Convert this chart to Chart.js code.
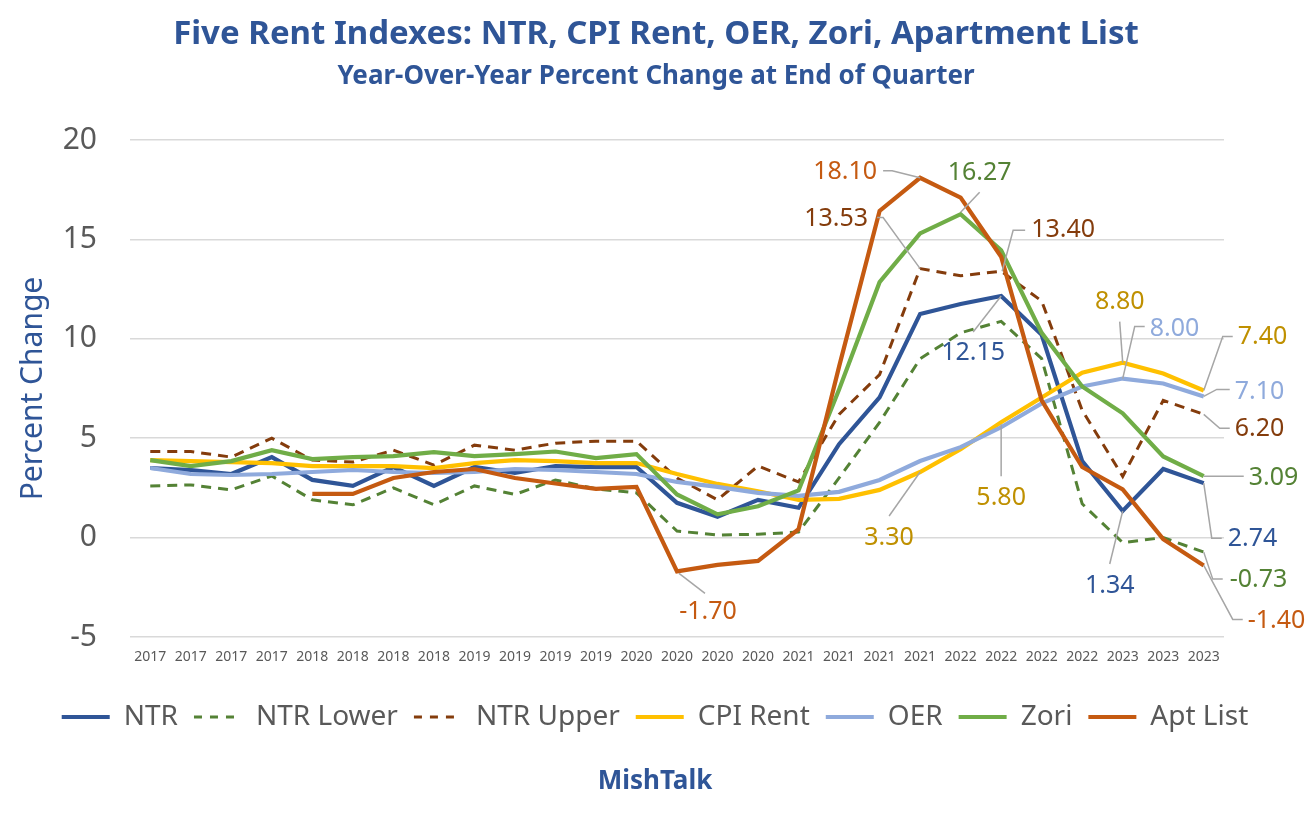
<!DOCTYPE html>
<html>
<head>
<meta charset="utf-8">
<script src="https://cdn.jsdelivr.net/npm/chart.js@4.4.1/dist/chart.umd.min.js"></script>
<style>
  html, body { margin: 0; padding: 0; background: #ffffff; }
  #wrap { width: 1310px; height: 835px; }
</style>
</head>
<body>
<div id="wrap"><canvas id="rentChart"></canvas></div>
<script>
// quarter-end labels, 2017 Q1 .. 2023 Q3
const quarters = [
  '2017', '2017', '2017', '2017', '2018', '2018', '2018', '2018',
  '2019', '2019', '2019', '2019', '2020', '2020', '2020', '2020',
  '2021', '2021', '2021', '2021', '2022', '2022', '2022', '2022',
  '2023', '2023', '2023'
];

const ntr      = [3.5, 3.4, 3.2, 4.05, 2.9, 2.6, 3.55, 2.6, 3.55, 3.25, 3.6, 3.55, 3.55, 1.75, 1.05, 1.9, 1.5, 4.7, 7.05, 11.25, 11.75, 12.15, 10.2, 3.85, 1.34, 3.45, 2.74];
const ntrLower = [2.6, 2.65, 2.4, 3.1, 1.9, 1.65, 2.5, 1.65, 2.6, 2.17, 2.9, 2.45, 2.25, 0.33, 0.13, 0.17, 0.28, 3.0, 5.8, 9.0, 10.3, 10.88, 9.0, 1.7, -0.25, 0.0, -0.73];
const ntrUpper = [4.33, 4.33, 4.05, 5.0, 3.9, 3.8, 4.4, 3.65, 4.65, 4.4, 4.75, 4.85, 4.85, 3.0, 1.9, 3.6, 2.8, 6.2, 8.2, 13.53, 13.17, 13.40, 11.9, 6.4, 3.08, 6.9, 6.20];
const cpiRent  = [3.9, 3.85, 3.8, 3.75, 3.6, 3.6, 3.6, 3.5, 3.75, 3.9, 3.85, 3.75, 3.75, 3.2, 2.7, 2.33, 1.9, 1.95, 2.4, 3.30, 4.45, 5.80, 7.05, 8.3, 8.80, 8.25, 7.40];
const oer      = [3.5, 3.2, 3.15, 3.2, 3.3, 3.4, 3.3, 3.25, 3.3, 3.45, 3.4, 3.3, 3.2, 2.8, 2.55, 2.25, 2.1, 2.3, 2.9, 3.85, 4.55, 5.55, 6.75, 7.6, 8.00, 7.75, 7.10];
const zori     = [3.9, 3.6, 3.85, 4.4, 3.95, 4.05, 4.1, 4.3, 4.1, 4.2, 4.33, 4.0, 4.2, 2.17, 1.17, 1.58, 2.37, 7.45, 12.85, 15.3, 16.27, 14.45, 10.3, 7.6, 6.25, 4.08, 3.09];
const aptList  = [null, null, null, null, 2.2, 2.2, 3.0, 3.3, 3.45, 3.0, 2.72, 2.45, 2.55, -1.70, -1.37, -1.17, 0.42, 8.6, 16.43, 18.10, 17.1, 14.13, 6.9, 3.55, 2.42, -0.08, -1.40];

const yTicks = [-5, 0, 5, 10, 15, 20];

// callouts: which point gets a value label, where the text sits and the leader path (px offsets from the point)
const callouts = [
  { series: 'Apt List',  i: 13, dx: 31,  dy: 40,  align: 'center', color: '#C55A11', leader: [[2, 2], [28, 22]] },
  { series: 'Apt List',  i: 19, dx: -43, dy: -6,  align: 'right',  color: '#C55A11', leader: [[0, 0], [-28, -7], [-37, -7]] },
  { series: 'Zori',      i: 20, dx: 19,  dy: -41, align: 'center', color: '#548235', leader: [[0, -2], [19, -22]] },
  { series: 'NTR Upper', i: 19, dx: -52, dy: -50, align: 'right',  color: '#843C0C', leader: [[0, 0], [-37, -51], [-43, -51]] },
  { series: 'NTR Upper', i: 21, dx: 30,  dy: -41, align: 'left',   color: '#843C0C', leader: [[1, 0], [12, -41], [24, -41]] },
  { series: 'NTR',       i: 21, dx: -28, dy: 57,  align: 'center', color: '#2F5597', leader: [[0, 0], [-28, 36]] },
  { series: 'CPI Rent',  i: 19, dx: -31, dy: 66,  align: 'center', color: '#BF9000', leader: [[0, 0], [-31, 44]] },
  { series: 'CPI Rent',  i: 21, dx: 0,   dy: 76,  align: 'center', color: '#BF9000', leader: [[0, 2], [0, 54]] },
  { series: 'CPI Rent',  i: 24, dx: -3,  dy: -61, align: 'center', color: '#BF9000', leader: [[0, 0], [-3, -41]] },
  { series: 'OER',       i: 24, dx: 27,  dy: -50, align: 'left',   color: '#8FAADC', leader: [[0, 0], [12, -52], [22, -52]] },
  { series: 'CPI Rent',  i: 26, dx: 34,  dy: -54, align: 'left',   color: '#BF9000', leader: [[0, 0], [19, -54], [29, -54]] },
  { series: 'OER',       i: 26, dx: 31,  dy: -5,  align: 'left',   color: '#8FAADC', leader: [[0, 0], [13, -7], [26, -7]] },
  { series: 'NTR Upper', i: 26, dx: 31,  dy: 15,  align: 'left',   color: '#843C0C', leader: [[0, 0], [16, 14], [26, 14]] },
  { series: 'Zori',      i: 26, dx: 45,  dy: 2,   align: 'left',   color: '#548235', leader: [[0, 0], [40, 0]] },
  { series: 'NTR',       i: 26, dx: 24,  dy: 56,  align: 'left',   color: '#2F5597', leader: [[0, 0], [8, 55], [18, 55]] },
  { series: 'NTR Lower', i: 26, dx: 26,  dy: 28,  align: 'left',   color: '#548235', leader: [[0, 0], [9, 27], [19, 27]] },
  { series: 'Apt List',  i: 26, dx: 44,  dy: 55,  align: 'left',   color: '#C55A11', leader: [[0, 0], [29, 54], [39, 54]] },
  { series: 'NTR',       i: 24, dx: -13, dy: 75,  align: 'center', color: '#2F5597', leader: [[0, 0], [-13, 53]] }
];

const FONT = '"Noto Sans", "Open Sans", sans-serif';
const BLUE = '#2F5597';
const GREY_TEXT = '#595959';

const calloutPlugin = {
  id: 'callouts',
  afterDatasetsDraw(chart) {
    const ctx = chart.ctx;
    ctx.save();
    callouts.forEach(c => {
      const dsIndex = chart.data.datasets.findIndex(d => d.label === c.series);
      const pt = chart.getDatasetMeta(dsIndex).data[c.i];
      const value = chart.data.datasets[dsIndex].data[c.i];
      ctx.strokeStyle = '#A6A6A6';
      ctx.lineWidth = 1.5;
      ctx.setLineDash([]);
      ctx.beginPath();
      c.leader.forEach(([dx, dy], k) => {
        if (k === 0) ctx.moveTo(pt.x + dx, pt.y + dy);
        else ctx.lineTo(pt.x + dx, pt.y + dy);
      });
      ctx.stroke();
      ctx.fillStyle = c.color;
      ctx.font = '25px ' + FONT;
      ctx.textAlign = c.align;
      ctx.textBaseline = 'middle';
      ctx.fillText(value.toFixed(2), pt.x + c.dx, pt.y + c.dy);
    });
    ctx.restore();
  }
};

const headingPlugin = {
  id: 'headings',
  afterDraw(chart) {
    const ctx = chart.ctx;
    ctx.save();
    ctx.fillStyle = BLUE;
    ctx.textAlign = 'center';
    ctx.textBaseline = 'middle';
    ctx.font = 'bold 33px ' + FONT;
    ctx.fillText('Five Rent Indexes: NTR, CPI Rent, OER, Zori, Apartment List', 656, 35);
    ctx.font = 'bold 26px ' + FONT;
    ctx.fillText('Year-Over-Year Percent Change at End of Quarter', 656, 77);
    ctx.font = 'bold 26px ' + FONT;
    ctx.fillText('MishTalk', 655, 782);
    ctx.restore();
  }
};

function line(label, data, color, dashed, order) {
  return {
    label: label,
    data: data,
    borderColor: color,
    backgroundColor: color,
    borderWidth: dashed ? 3 : 4.2,
    borderDash: dashed ? [10, 7] : [],
    pointRadius: 0,
    tension: 0,
    fill: false,
    spanGaps: false,
    order: order
  };
}

// legend samples should copy the line style (width + dash) of each series
function legendLabels(chart) {
  return Chart.defaults.plugins.legend.labels.generateLabels(chart).map(item => {
    const ds = chart.data.datasets[item.datasetIndex];
    item.lineWidth = ds.borderWidth;
    item.lineDash = ds.borderDash.length ? [8, 8] : [];
    item.strokeStyle = ds.borderColor;
    return item;
  });
}

const ctx = document.getElementById('rentChart').getContext('2d');
const rentChart = new Chart(ctx, {
  type: 'line',
  data: {
    labels: quarters,
    datasets: [
      line('NTR', ntr, '#2F5597', false, 6),
      line('NTR Lower', ntrLower, '#548235', true, 5),
      line('NTR Upper', ntrUpper, '#843C0C', true, 4),
      line('CPI Rent', cpiRent, '#FFC000', false, 3),
      line('OER', oer, '#8FAADC', false, 2),
      line('Zori', zori, '#70AD47', false, 1),
      line('Apt List', aptList, '#C55A11', false, 0)
    ]
  },
  options: {
    responsive: true,
    maintainAspectRatio: false,
    animation: false,
    layout: { padding: { top: 140, right: 0, bottom: 94, left: 0 } },
    plugins: {
      title: { display: false },
      tooltip: { enabled: false },
      legend: {
        position: 'bottom',
        labels: {
          usePointStyle: true,
          pointStyle: 'line',
          pointStyleWidth: 48,
          padding: 16,
          color: GREY_TEXT,
          font: { family: FONT, size: 28 },
          generateLabels: legendLabels,
          sort: (a, b) => a.datasetIndex - b.datasetIndex
        }
      }
    },
    scales: {
      x: {
        offset: true,
        grid: { display: false, drawTicks: false, offset: true },
        border: { display: false },
        ticks: {
          color: GREY_TEXT,
          font: { family: FONT, size: 14 },
          maxRotation: 0,
          autoSkip: false,
          padding: 12
        },
        afterFit: scale => { scale.height = 50; }
      },
      y: {
        min: -5,
        max: 20,
        afterBuildTicks: scale => { scale.ticks = yTicks.map(v => ({ value: v })); },
        grid: { color: '#D9D9D9', lineWidth: 1.5, drawTicks: false },
        border: { display: false },
        ticks: {
          color: GREY_TEXT,
          font: { family: FONT, size: 30 },
          padding: 33
        },
        title: {
          display: true,
          text: 'Percent Change',
          color: BLUE,
          font: { family: FONT, size: 30 },
          padding: { top: 15, bottom: 0 }
        },
        afterFit: scale => { scale.width = 130; }
      },
      yRight: {
        position: 'right',
        display: true,
        grid: { display: false, drawTicks: false },
        border: { display: false },
        ticks: { display: false },
        afterFit: scale => { scale.width = 86; }
      }
    }
  },
  plugins: [calloutPlugin, headingPlugin]
});
</script>
</body>
</html>
